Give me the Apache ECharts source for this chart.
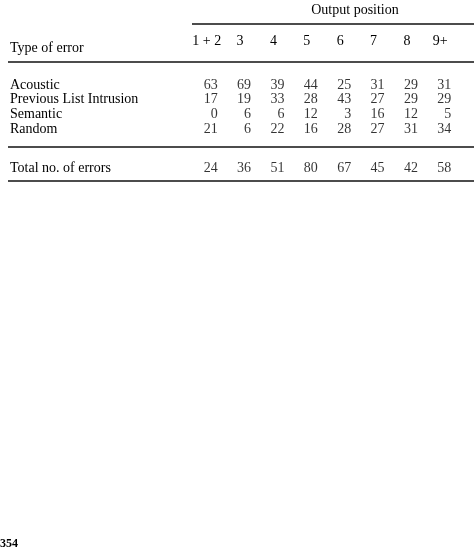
<!DOCTYPE html>
<html><head><meta charset="utf-8">
<script src="https://cdn.jsdelivr.net/npm/echarts@6/dist/echarts.min.js"></script>
<style>html,body{margin:0;background:#fff}#c{width:474px;height:551px}</style>
</head><body><div id="c"></div>
<script>
const columns = ['1 + 2','3','4','5','6','7','8','9+'];
const rowNames = ['Acoustic','Previous List Intrusion','Semantic','Random'];
const acoustic = [63,69,39,44,25,31,29,31];
const intrusion = [17,19,33,28,43,27,29,29];
const semantic = [0,6,6,12,3,16,12,5];
const random = [21,6,22,16,28,27,31,34];
const totals = [24,36,51,80,67,45,42,58];
const rowsData = [acoustic, intrusion, semantic, random];
const totalRowPos = 5.65;

const F = 'Liberation Serif';
const pts = [];
rowsData.forEach((arr, r) => arr.forEach((v, c) => pts.push([c, r, v])));
totals.forEach((v, c) => pts.push([c, totalRowPos, v]));

const chart = echarts.init(document.getElementById('c'));
const txt = (x, y, s, align) => ({type:'text', x, y, style:{text:s, font:'14px "'+F+'"', fill:'#000', align:align||'left', verticalAlign:'middle'}});
const line = (x1, x2, y) => ({type:'line', shape:{x1, y1:y, x2, y2:y}, style:{stroke:'#111', lineWidth:1.3}});
const g = [
  txt(355, 10, 'Output position', 'center'),
  line(192, 474, 24),
  txt(10, 48, 'Type of error'),
  line(8, 474, 62),
  line(8, 474, 147),
  txt(10, 168, 'Total no. of errors'),
  line(8, 474, 181),
  {type:'text', x:0, y:544, style:{text:'354', font:'bold 12px "'+F+'"', fill:'#000', verticalAlign:'middle'}}
];
rowNames.forEach((n, i) => g.push(txt(10, 85 + i * 14.7, n)));

chart.setOption({
  animation:false,
  graphic:g,
  grid:{left:190, right:17, top:84, height:83},
  xAxis:{type:'category', data:columns, position:'top', offset:28,
    axisLine:{show:false}, axisTick:{show:false},
    axisLabel:{interval:0, fontFamily:F, fontSize:14, color:'#000'}},
  yAxis:{type:'value', min:0, max:totalRowPos, inverse:true, show:false},
  series:[{type:'scatter', data:pts, symbolSize:0,
    label:{show:true, position:'inside', align:'right', offset:[11,1],
      fontFamily:F, fontSize:14, color:'#000', formatter:p => p.value[2]}}]
});
</script></body></html>
